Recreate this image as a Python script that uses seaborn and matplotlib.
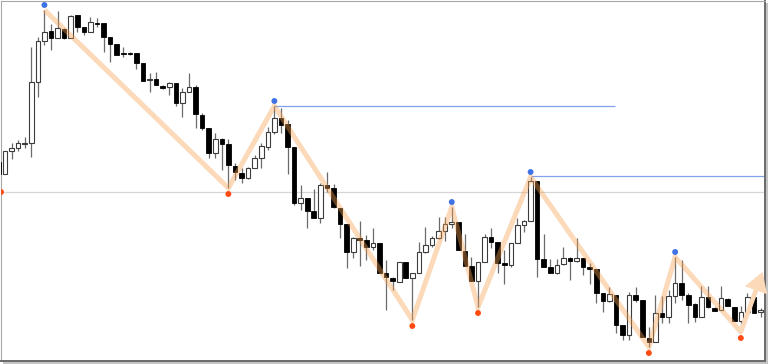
import numpy as np
import pandas as pd
import seaborn as sns
import matplotlib
matplotlib.use("Agg")
import matplotlib.pyplot as plt
from matplotlib.patches import Rectangle

# ---------------- data (price points) ----------------
opens = [202, 190, 213, 216, 220.5, 221, 282, 323, 333, 326,
         335, 326, 349, 337, 332, 341.5, 341, 327, 320, 311,
         311, 311, 301, 284.5, 285, 278, 277, 281, 261, 272,
         277, 249, 236, 211, 225, 220, 198, 191, 186, 196,
         206, 217, 232, 246, 240, 217, 161, 166, 153, 146,
         179, 176, 156, 140, 112, 126, 124, 117, 121, 91,
         86, 82, 102, 86, 91, 112, 119, 126, 133, 140,
         142, 113, 98, 83, 102, 127, 122, 101, 99, 121,
         139, 143, 183, 105, 97, 91, 100, 106, 103, 106,
         97, 95, 71, 63, 69, 39, 29, 69, 64, 26,
         22, 51, 47, 68, 81, 69, 60, 47, 67, 56,
         54, 65, 57, 43, 52, 67, 52]
closes = [190, 213, 216, 221, 221.5, 282, 323, 332, 326, 336,
          326, 348, 337, 332, 342, 340.5, 327, 320, 309, 310.5,
          310.2, 301, 283, 285.5, 279, 276, 281, 261, 272, 277,
          250, 236, 211, 225, 220, 199, 192, 186, 196, 206,
          218, 232, 246, 239, 217, 161, 166, 153, 146, 179,
          176, 157, 140, 112, 126, 124, 117, 121, 91, 87,
          83, 102, 86, 91, 112, 119, 126, 133, 140, 142,
          114, 98, 83, 102, 127, 122, 101, 99, 121, 139,
          143, 183, 105, 97, 91, 99, 106, 103, 106, 97,
          95, 71, 63, 70, 39, 29, 69, 64, 27, 22,
          51, 47, 68, 81, 69, 59, 47, 67, 57, 53,
          66, 58, 43, 52, 67, 51, 54]
highs = [202, 213, 221, 224, 227, 317, 327, 354, 340, 353,
         336, 349, 349, 337, 347, 346, 341, 327, 320, 317,
         312, 311, 301, 291, 292, 279, 282, 281, 276, 291,
         279, 251, 236, 231, 226, 225, 201, 196, 197, 209,
         221, 237, 258, 256, 244, 217, 179, 166, 175, 181,
         192, 180, 156, 140, 127, 143, 129, 136, 121, 104,
         87, 102, 102, 91, 122, 137, 128, 147, 147, 157,
         142, 130, 107, 102, 130, 136, 122, 114, 121, 146,
         144, 187, 183, 130, 105, 105, 117, 107, 126, 106,
         101, 95, 71, 77, 69, 39, 72, 77, 64, 37,
         69, 68, 74, 107, 104, 71, 61, 78, 78, 57,
         78, 66, 57, 58, 71, 67, 56]
lows = [189, 190, 205, 213, 216, 207, 267, 319, 314, 326,
        325, 326, 332, 329, 332, 337, 312, 302, 309, 307,
        309, 295, 283, 272, 279, 275, 269, 258, 247, 272,
        236, 234, 206, 206, 194, 176, 184, 181, 185, 196,
        196, 214, 230, 231, 190, 159, 154, 136, 146, 141,
        172, 156, 126, 96, 106, 98, 104, 114, 91, 54,
        74, 82, 86, 44, 91, 111, 117, 125, 123, 136,
        114, 98, 83, 57, 102, 116, 91, 80, 97, 121,
        132, 143, 87, 97, 91, 90, 99, 84, 102, 89,
        80, 61, 52, 62, 31, 24, 24, 62, 27, 17,
        22, 41, 41, 61, 64, 41, 42, 47, 56, 53,
        54, 58, 43, 32, 52, 51, 47]

pivot_idx = [7, 35, 42, 63, 69, 73, 81, 99, 103, 113]
pivot_price = [354, 176, 258, 44, 157, 57, 187, 17, 107, 32]
pivot_kind = ["high", "low", "high", "low", "high", "low", "high", "low", "high", "low"]
arrow_end = (116.3, 92)

prev_low_level = 172          # gray line and left-edge red dot
level_lines = [(42, 93.8, 258), (81, 117.0, 188)]   # (start idx, end idx, price)

# ---------------- plot ----------------
sns.set_style("white")
W, H = 768, 364
fig = plt.figure(figsize=(W / 100, H / 100), dpi=100)
fig.patch.set_facecolor("white")

# frame shadow
shadow = Rectangle((3 / W, 0 / H), 765 / W, 361 / H, transform=fig.transFigure,
                   facecolor="#c4c4c4", edgecolor="none", zorder=0)
fig.patches.append(shadow)
ax = fig.add_axes([1 / W, 3 / H, 764 / W, 360 / H])
ax.set_zorder(5)
ax.set_facecolor("white")

n = len(opens)
idx = np.arange(n)
o = np.array(opens, float)
c = np.array(closes, float)
h = np.array(highs, float)
l = np.array(lows, float)
up = c >= o

# wicks
ax.vlines(idx, l, h, color="#6b6b6b", lw=0.9, zorder=2)
# bodies
bw = 0.7
bottoms = np.minimum(o, c)
heights = np.maximum(np.abs(c - o), 0.8)
ax.bar(idx[up], heights[up], bottom=bottoms[up], width=bw, color="white",
       edgecolor="#3c3c3c", linewidth=0.8, zorder=3)
ax.bar(idx[~up], heights[~up], bottom=bottoms[~up], width=bw, color="black",
       edgecolor="black", linewidth=0.6, zorder=3)

# reference lines
ax.axhline(prev_low_level, color="#d6d6d6", lw=0.9, zorder=1)
for x0, x1, y in level_lines:
    ax.hlines(y, x0, x1, color="#7fa2ea", lw=0.9, zorder=1)

# zigzag
zz = pd.DataFrame({"idx": pivot_idx, "price": pivot_price})
zig_color = "#f5a050"
sns.lineplot(data=zz, x="idx", y="price", sort=False, color=zig_color, alpha=0.4,
             lw=3.6, ax=ax, zorder=4, solid_capstyle="butt", solid_joinstyle="miter")
ax.annotate("", xy=arrow_end, xytext=(pivot_idx[-1], pivot_price[-1]),
            arrowprops=dict(arrowstyle="-|>,head_length=0.9,head_width=0.55",
                            color="#fbd9b9", lw=3.4, joinstyle="miter",
                            shrinkA=0, shrinkB=0), zorder=4, annotation_clip=False)

# pivot dots
dots = pd.DataFrame({
    "idx": pivot_idx,
    "price": [p + 5 if k == "high" else p - 6 for p, k in zip(pivot_price, pivot_kind)],
    "kind": pivot_kind,
})
x_left = 0.391
dots = pd.concat([dots, pd.DataFrame({"idx": [x_left], "price": [prev_low_level], "kind": ["low"]})],
                 ignore_index=True)
sns.scatterplot(data=dots, x="idx", y="price", hue="kind",
                palette={"high": "#3f72e4", "low": "#ff4a12"}, s=18, linewidth=0,
                legend=False, ax=ax, zorder=5, clip_on=True)

ax.set_xlim(x_left, x_left + 764 / 6.57)
ax.set_ylim(3, 363)
ax.set_xticks([])
ax.set_yticks([])
ax.set_xlabel("")
ax.set_ylabel("")
for side in ["top", "left"]:
    ax.spines[side].set_color("#a8a8a8")
    ax.spines[side].set_linewidth(0.8)
for side in ["right", "bottom"]:
    ax.spines[side].set_color("#6a6a6a")
    ax.spines[side].set_linewidth(1.4)

fig.savefig("out.png", dpi=100, facecolor="white")
